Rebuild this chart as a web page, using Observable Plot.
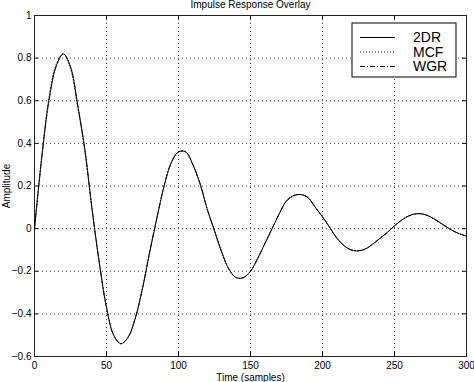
<!DOCTYPE html>
<html>
<head>
<meta charset="utf-8">
<script src="https://cdn.jsdelivr.net/npm/d3@7"></script>
<script src="https://cdn.jsdelivr.net/npm/@observablehq/plot@0.6"></script>
<style>
  html, body { margin: 0; padding: 0; background: #fff; }
  #chart { width: 474px; height: 382px; overflow: hidden; }
</style>
</head>
<body>
<div id="chart"></div>
<script>
const title = "Impulse Response Overlay";
const xLabel = "Time (samples)";
const yLabel = "Amplitude";
const seriesNames = ["2DR", "MCF", "WGR"];
const xTicks = [0, 50, 100, 150, 200, 250, 300];
const yTicks = [-0.6, -0.4, -0.2, 0, 0.2, 0.4, 0.6, 0.8, 1];

const time = [0,5,10,15,20,25,30,35,40,45,50,55,60,65,70,75,80,85,90,95,100,105,110,115,120,125,130,135,140,145,150,155,160,165,170,175,180,185,190,195,200,205,210,215,220,225,230,235,240,245,250,255,260,265,270,275,280,285,290,295,300];
const amp2DR = [0,0.33,0.60,0.76,0.82,0.76,0.58,0.37,0.09,-0.16,-0.37,-0.50,-0.54,-0.51,-0.42,-0.28,-0.11,0.05,0.20,0.31,0.36,0.36,0.30,0.21,0.09,-0.01,-0.11,-0.19,-0.23,-0.23,-0.20,-0.14,-0.07,0.00,0.07,0.13,0.155,0.16,0.145,0.10,0.055,0.006,-0.045,-0.08,-0.10,-0.104,-0.095,-0.072,-0.045,-0.018,0.013,0.04,0.06,0.07,0.068,0.055,0.035,0.013,-0.008,-0.024,-0.035];
const ampMCF = [0,0.34,0.61,0.77,0.82,0.75,0.57,0.36,0.09,-0.16,-0.37,-0.50,-0.54,-0.51,-0.42,-0.28,-0.11,0.05,0.20,0.31,0.36,0.36,0.30,0.21,0.09,-0.01,-0.11,-0.19,-0.23,-0.23,-0.20,-0.14,-0.07,0.00,0.07,0.13,0.155,0.16,0.145,0.10,0.055,0.006,-0.045,-0.08,-0.10,-0.104,-0.095,-0.072,-0.045,-0.018,0.013,0.04,0.06,0.07,0.068,0.055,0.035,0.013,-0.008,-0.024,-0.035];
const ampWGR = [0,0.33,0.60,0.76,0.82,0.76,0.58,0.37,0.09,-0.16,-0.37,-0.50,-0.54,-0.51,-0.42,-0.28,-0.11,0.05,0.20,0.31,0.36,0.36,0.30,0.21,0.09,-0.01,-0.11,-0.19,-0.23,-0.23,-0.20,-0.14,-0.07,0.00,0.07,0.13,0.155,0.16,0.145,0.10,0.055,0.006,-0.045,-0.08,-0.10,-0.104,-0.095,-0.072,-0.045,-0.018,0.013,0.04,0.06,0.07,0.068,0.055,0.035,0.013,-0.008,-0.024,-0.035];

const dashes = {"2DR": null, "MCF": "1,2", "WGR": "5,2,1,2"};
const seriesValues = {"2DR": amp2DR, "MCF": ampMCF, "WGR": ampWGR};
const data = [];
for (const s of ["WGR", "MCF", "2DR"]) {
  seriesValues[s].forEach((v, i) => data.push({series: s, t: time[i], a: v}));
}

const W = 474, H = 382;
const mL = 34, mR = 8, mT = 15, mB = 26;
const fw = W - mL - mR, fh = H - mT - mB;
const fmt = d => String(Math.round(d * 10) / 10).replace("-", "\u2212");
const font = "'Liberation Sans', Arial, Helvetica, sans-serif";

const marks = [
  Plot.gridX(xTicks, {stroke: "#000", strokeOpacity: 0.75, strokeDasharray: "1,3"}),
  Plot.gridY(yTicks, {stroke: "#000", strokeOpacity: 0.75, strokeDasharray: "1,3"}),
  Plot.tickX(xTicks, {x: d => d, insetTop: fh - 4, stroke: "#000"}),
  Plot.tickX(xTicks, {x: d => d, insetBottom: fh - 4, stroke: "#000"}),
  Plot.tickY(yTicks, {y: d => d, insetLeft: fw - 4, stroke: "#000"}),
  Plot.tickY(yTicks, {y: d => d, insetRight: fw - 4, stroke: "#000"}),
  Plot.frame({stroke: "#222"})
];
for (const s of ["WGR", "MCF", "2DR"]) {
  marks.push(Plot.line(data.filter(d => d.series === s), {
    x: "t", y: "a", stroke: "#000", strokeWidth: 0.8, curve: "catmull-rom",
    strokeDasharray: dashes[s]
  }));
}
marks.push(
  Plot.axisX(xTicks, {anchor: "bottom", tickSize: 0, tickPadding: 5, fontSize: 10, label: xLabel, labelAnchor: "center", labelOffset: 24, labelArrow: "none"}),
  Plot.axisY(yTicks, {anchor: "left", tickSize: 0, tickPadding: 3, fontSize: 10, tickFormat: fmt, label: yLabel, labelAnchor: "center", labelOffset: 32, labelArrow: "none"}),
  Plot.text([title], {frameAnchor: "top", dy: -8, lineAnchor: "bottom", fontSize: 10})
);

const svg = Plot.plot({
  width: W, height: H,
  marginLeft: mL, marginRight: mR, marginTop: mT, marginBottom: mB,
  style: {fontFamily: font, fontSize: "10px", color: "#000", background: "#fff"},
  x: {domain: [0, 300]},
  y: {domain: [-0.6, 1]},
  marks
});

// Legend (MATLAB style box inside the plot)
const g = d3.select(svg).append("g").attr("font-family", font).attr("font-size", 14).attr("text-anchor", "start");
const lx = 352, ly = 23, lw = 104, lh = 54;
g.append("rect").attr("x", lx).attr("y", ly).attr("width", lw).attr("height", lh)
  .attr("fill", "#fff").attr("stroke", "#000").attr("stroke-width", 1);
seriesNames.forEach((s, i) => {
  const y = ly + 14.5 + i * 14.5;
  g.append("line").attr("x1", lx + 8).attr("x2", lx + 43).attr("y1", y).attr("y2", y)
    .attr("stroke", "#000").attr("stroke-width", 1)
    .attr("stroke-dasharray", dashes[s]);
  g.append("text").attr("x", lx + 61).attr("y", y).attr("dy", "0.35em")
    .attr("text-anchor", "start").attr("fill", "#000").text(s);
});

document.getElementById("chart").appendChild(svg);
</script>
</body>
</html>
